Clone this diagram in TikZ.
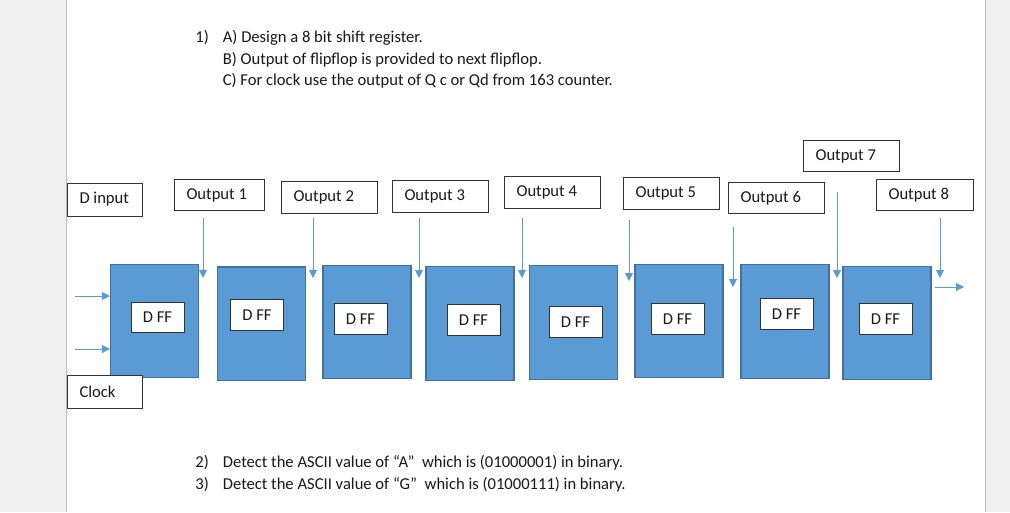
\documentclass[tikz,border=0pt]{standalone}
\usepackage{fontspec}
\setmainfont{Carlito}
\usepackage{tikz}
\usetikzlibrary{arrows.meta}

\definecolor{ffblue}{HTML}{5B9BD5}
\definecolor{ffedge}{HTML}{41719C}
\definecolor{arrblue}{HTML}{5B9BD5}
\definecolor{pagegrey}{HTML}{F0F0F0}
\definecolor{pageline}{HTML}{BDBDBD}

\begin{document}
\begin{tikzpicture}[x=0.02cm, y=-0.02cm,
    txt/.style={font=\fontsize{9.45pt}{11pt}\selectfont, text=black!90, inner sep=0pt},
    lblbox/.style={txt, draw=black!80, line width=0.55pt, fill=white, minimum height=0.63cm, inner xsep=0.25cm},
    ffbox/.style={draw=ffedge, line width=0.6pt, fill=ffblue, minimum width=1.76cm, minimum height=2.27cm, inner sep=0pt},
    dffbox/.style={txt, draw=black!80, line width=0.55pt, fill=white, minimum width=1.06cm, minimum height=0.61cm},
    arr/.style={draw=arrblue, line width=0.5pt, -{Triangle[length=0.16cm, width=0.16cm]}}]

    \useasboundingbox (0,0) rectangle (1010,512);

    % draw page and margins
    \fill[white] (0,0) rectangle (1010,512);
    \fill[pagegrey] (0,0) rectangle (66,512);
    \fill[pagegrey] (985,0) rectangle (1010,512);
    \draw[pageline] (66.5,0) -- (66.5,512);
    \draw[pageline] (985.5,0) -- (985.5,512);

    % draw task text
    \draw (195,42.7) node[txt, anchor=base west] (n1) {1)};
    \draw (222.5,42.7) node[txt, anchor=base west] (taskA) {A) Design a 8 bit shift register.};
    \draw (222.5,64.2) node[txt, anchor=base west] (taskB) {B) Output of flipflop is provided to next flipflop.};
    \draw (222.5,85.7) node[txt, anchor=base west] (taskC) {C) For clock use the output of Q c or Qd from 163 counter.};

    \draw (195,467.7) node[txt, anchor=base west] (n2) {2)};
    \draw (222.5,467.7) node[txt, anchor=base west] (task2) {Detect the ASCII value of “A”\ \ which is (01000001) in binary.};
    \draw (195,489.2) node[txt, anchor=base west] (n3) {3)};
    \draw (222.5,489.2) node[txt, anchor=base west] (task3) {Detect the ASCII value of “G”\ \ which is (01000111) in binary.};

    % draw flip flops
    \foreach \i/\x/\y in {1/154.5/321, 2/261.3/323.7, 3/367/322, 4/470/323.3,
                          5/573.5/322.3, 6/679/321, 7/785/321.5, 8/887/323}
      \node[ffbox] (ff\i) at (\x,\y) {};

    \foreach \i/\x/\y in {1/157.5/317.5, 2/257/315, 3/360.5/319, 4/473.5/320,
                          5/575.5/322, 6/677.5/319, 7/786.5/314, 8/885.5/319}
      \node[dffbox] (dff\i) at (\x,\y) {D FF};

    % draw input and output labels
    \draw (104.5,199.5) node[lblbox, minimum height=0.66cm] (din) {\makebox[1.0cm][l]{D input}};
    \draw (104.5,391.5) node[lblbox, minimum height=0.66cm] (clk) {\makebox[1.0cm][l]{Clock}};

    \foreach \i/\x/\y/\w in {1/219/195/90, 2/329/197.5/96, 3/440/196.5/96, 4/552/192.5/96,
                             5/671/193.5/96, 6/776/198/96, 7/851/156/96, 8/924.5/195/97}
    {
      \pgfmathsetmacro\tw{(\w-25)*0.02}
      \node[lblbox] (out\i) at (\x,\y) {\makebox[\tw cm][l]{Output \i}};
    }

    % draw arrows
    \foreach \i/\x/\a/\b in {1/203/218/278, 2/313/218/278, 3/419/218/278, 4/522/218/278,
                             5/629/220/281, 6/733/227/287, 7/837/192/278, 8/940/218/278}
    {
      \coordinate (q\i) at (\x,\a);
      \coordinate (qe\i) at (\x,\b);
      \draw[arr] (q\i) -- (qe\i);
    }

    \coordinate (dIn) at (75,296);
    \coordinate (clkIn) at (75,349);
    \draw[arr] (dIn) -- (dIn -| ff1.west);
    \draw[arr] (clkIn) -- (clkIn -| ff1.west);

    \coordinate (qOutS) at (935,287);
    \coordinate (qOutE) at (964,287);
    \draw[arr] (qOutS) -- (qOutE);

\end{tikzpicture}
\end{document}
